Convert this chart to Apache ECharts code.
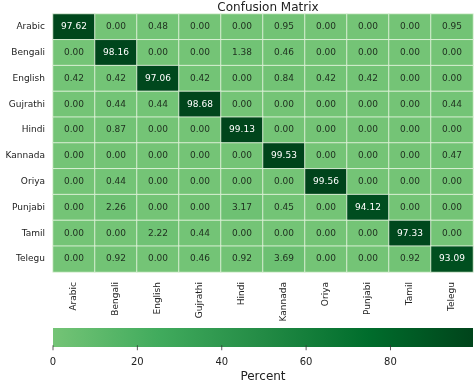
<!DOCTYPE html>
<html>
<head>
<meta charset="utf-8">
<script src="https://cdn.jsdelivr.net/npm/echarts@6/dist/echarts.min.js"></script>
<style>html,body{margin:0;padding:0;background:#fff}#c{width:474px;height:381px}</style>
</head>
<body>
<div id="c"></div>
<script>
const categories = ['Arabic','Bengali','English','Gujrathi','Hindi','Kannada','Oriya','Punjabi','Tamil','Telegu'];
const rowArabic   = [97.62, 0.00, 0.48, 0.00, 0.00, 0.95, 0.00, 0.00, 0.00, 0.95];
const rowBengali  = [0.00, 98.16, 0.00, 0.00, 1.38, 0.46, 0.00, 0.00, 0.00, 0.00];
const rowEnglish  = [0.42, 0.42, 97.06, 0.42, 0.00, 0.84, 0.42, 0.42, 0.00, 0.00];
const rowGujrathi = [0.00, 0.44, 0.44, 98.68, 0.00, 0.00, 0.00, 0.00, 0.00, 0.44];
const rowHindi    = [0.00, 0.87, 0.00, 0.00, 99.13, 0.00, 0.00, 0.00, 0.00, 0.00];
const rowKannada  = [0.00, 0.00, 0.00, 0.00, 0.00, 99.53, 0.00, 0.00, 0.00, 0.47];
const rowOriya    = [0.00, 0.44, 0.00, 0.00, 0.00, 0.00, 99.56, 0.00, 0.00, 0.00];
const rowPunjabi  = [0.00, 2.26, 0.00, 0.00, 3.17, 0.45, 0.00, 94.12, 0.00, 0.00];
const rowTamil    = [0.00, 0.00, 2.22, 0.44, 0.00, 0.00, 0.00, 0.00, 97.33, 0.00];
const rowTelegu   = [0.00, 0.92, 0.00, 0.46, 0.92, 3.69, 0.00, 0.00, 0.92, 93.09];
const colorbarTicks = [0, 20, 40, 60, 80];

const rows = [rowArabic,rowBengali,rowEnglish,rowGujrathi,rowHindi,rowKannada,rowOriya,rowPunjabi,rowTamil,rowTelegu];
const vmin = 0, vmax = 99.56;
const palette = ['#74c476', '#41ab5d', '#238b45', '#006d2c', '#00441b'];
const data = [];
rows.forEach((r, i) => r.forEach((v, j) => {
  data.push({value: [j, i, v], label: {color: v > 50 ? '#ffffff' : '#1e2e1e'}});
}));

const font = 'DejaVu Sans';
const chart = echarts.init(document.getElementById('c'), null, {renderer: 'canvas'});
chart.setOption({
  animation: false,
  backgroundColor: '#ffffff',
  title: {
    text: 'Confusion Matrix', left: 263, top: -3, textAlign: 'center',
    textStyle: {fontFamily: font, fontSize: 12, fontWeight: 'normal', color: '#222'}
  },
  grid: [
    {left: 53, right: 1, top: 14, bottom: 109, containLabel: false},
    {left: 53, right: 1, top: 347, height: 5, containLabel: false}
  ],
  xAxis: [
    {type: 'category', data: categories, gridIndex: 0, position: 'bottom',
     axisLine: {show: false}, axisTick: {show: false}, splitArea: {show: false},
     axisLabel: {rotate: 90, fontFamily: font, fontSize: 9, color: '#222', margin: 10}},
    {type: 'value', gridIndex: 1, min: vmin, max: vmax, interval: 20, position: 'bottom',
     axisLine: {show: false}, splitLine: {show: false}, axisTick: {show: false},
     axisLabel: {fontFamily: font, fontSize: 10, color: '#222', margin: 9, showMaxLabel: false,
       formatter: v => colorbarTicks.includes(v) ? String(v) : ''},
     name: 'Percent', nameLocation: 'middle', nameGap: 23,
     nameTextStyle: {fontFamily: font, fontSize: 12, color: '#222'}}
  ],
  yAxis: [
    {type: 'category', data: categories, inverse: true, gridIndex: 0,
     axisLine: {show: false}, axisTick: {show: false},
     axisLabel: {fontFamily: font, fontSize: 9, color: '#222', margin: 8}},
    {type: 'value', gridIndex: 1, min: 0, max: 1, show: false}
  ],
  visualMap: {
    type: 'continuous', min: vmin, max: vmax, seriesIndex: 0, show: false,
    inRange: {color: palette}
  },
  graphic: [{
    type: 'rect', left: 53, top: 328, silent: true, z: -1,
    shape: {width: 420, height: 19},
    style: {
      fill: new echarts.graphic.LinearGradient(0, 0, 1, 0,
        palette.map((c, k) => ({offset: k / (palette.length - 1), color: c})))
    }
  }],
  series: [{
    type: 'heatmap', xAxisIndex: 0, yAxisIndex: 0, data: data,
    label: {show: true, fontFamily: font, fontSize: 9, formatter: p => p.value[2].toFixed(2)},
    itemStyle: {borderColor: 'rgba(230,245,225,0.85)', borderWidth: 1}
  }, {
    type: 'scatter', xAxisIndex: 1, yAxisIndex: 1, silent: true,
    data: colorbarTicks.map(t => [t, 0.5]),
    symbol: 'rect', symbolSize: [1, 5], itemStyle: {color: '#333'}
  }]
});
</script>
</body>
</html>
